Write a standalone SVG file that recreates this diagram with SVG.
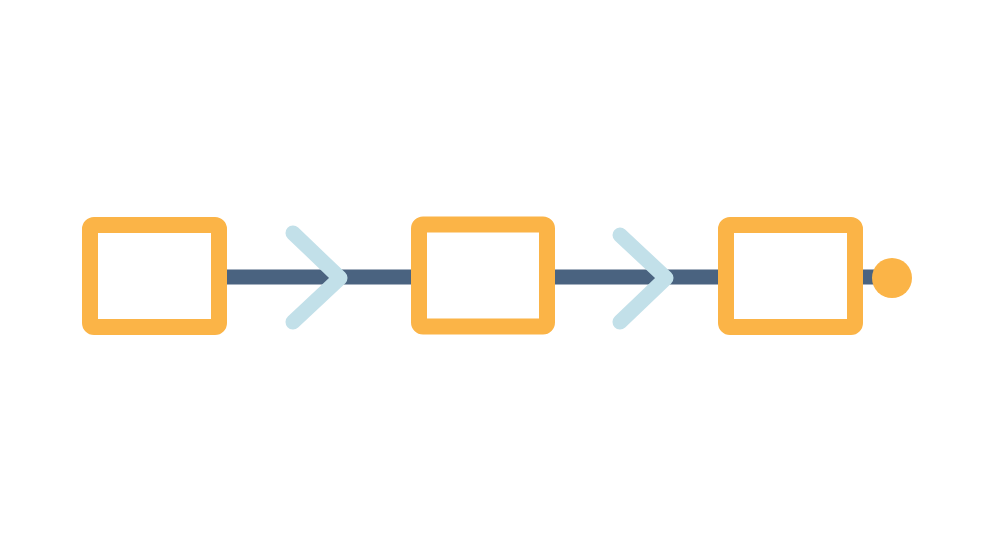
<svg xmlns="http://www.w3.org/2000/svg" width="992" height="558" viewBox="0 0 992 558">
  <style>
    .box { fill: #ffffff; stroke: #FBB447; stroke-width: 16; stroke-linejoin: round; }
    .chev { fill: none; stroke: #C2E0E9; stroke-width: 15; stroke-linecap: round; stroke-linejoin: round; }
    .line { stroke: #4A6380; stroke-width: 15; }
  </style>
  <rect width="992" height="558" fill="#ffffff"/>
  <g id="connectors">
    <line class="line" x1="220" y1="277" x2="880" y2="277"/>
    <polyline class="chev" points="293,233 340,278 293,322"/>
    <polyline class="chev" points="620,235 666,278 620,322"/>
  </g>
  <g id="node1">
    <rect class="box" x="90" y="225" width="129" height="102" rx="4"/>
  </g>
  <g id="node2">
    <rect class="box" x="419" y="224.5" width="128" height="102" rx="4"/>
  </g>
  <g id="node3">
    <rect class="box" x="726" y="225" width="129" height="102" rx="4"/>
  </g>
  <g id="end">
    <circle cx="892" cy="278" r="20" fill="#FBB447"/>
  </g>
</svg>
